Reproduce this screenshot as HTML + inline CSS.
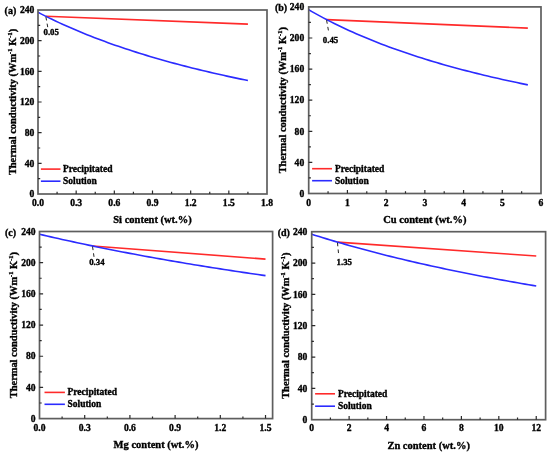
<!DOCTYPE html>
<html><head><meta charset="utf-8"><style>
html,body{margin:0;padding:0;background:#fff;}
body{width:550px;height:454px;overflow:hidden;}
svg{display:block;filter:blur(0.3px);}
text{font-family:"Liberation Serif", "Times New Roman", serif;font-weight:bold;fill:#000;stroke:#000;stroke-width:0.35px;}
.tk{font-size:9.6px;}
.lb{font-size:10.5px;}
.yl{font-size:10.4px;}
.lg{font-size:9.5px;}
.an{font-size:8.8px;}
.pn{font-size:10.0px;}
.sup{font-size:6.5px;}
</style></head><body>
<svg width="550" height="454" viewBox="0 0 550 454">
<rect width="550" height="454" fill="#fff"/>
<path d="M45.9,16.32 L247.92,24.11" fill="none" stroke="#ff2a2a" stroke-width="1.6"/>
<path d="M38,12.3 L41.5,14.1 L45,15.87 L48.5,17.6 L51.99,19.3 L55.49,20.97 L58.99,22.61 L62.49,24.21 L65.99,25.79 L69.49,27.34 L72.99,28.85 L76.48,30.35 L79.98,31.81 L83.48,33.25 L86.98,34.66 L90.48,36.05 L93.98,37.41 L97.48,38.75 L100.97,40.07 L104.47,41.37 L107.97,42.64 L111.47,43.9 L114.97,45.13 L118.47,46.34 L121.97,47.54 L125.47,48.71 L128.96,49.86 L132.46,51 L135.96,52.12 L139.46,53.22 L142.96,54.31 L146.46,55.38 L149.96,56.43 L153.45,57.46 L156.95,58.49 L160.45,59.49 L163.95,60.48 L167.45,61.46 L170.95,62.42 L174.45,63.37 L177.94,64.3 L181.44,65.22 L184.94,66.13 L188.44,67.03 L191.94,67.91 L195.44,68.78 L198.94,69.64 L202.43,70.49 L205.93,71.32 L209.43,72.15 L212.93,72.96 L216.43,73.77 L219.93,74.56 L223.43,75.34 L226.92,76.11 L230.42,76.87 L233.92,77.63 L237.42,78.37 L240.92,79.1 L244.42,79.82 L247.92,80.54" fill="none" stroke="#2b2bff" stroke-width="1.6"/>
<rect x="38" y="10" width="229" height="184" fill="none" stroke="#5e5e5e" stroke-width="1.7"/>
<text x="34.3" y="197.2" text-anchor="end" class="tk">0</text>
<text x="34.3" y="166.53" text-anchor="end" class="tk">40</text>
<text x="34.3" y="135.87" text-anchor="end" class="tk">80</text>
<text x="34.3" y="105.2" text-anchor="end" class="tk">120</text>
<text x="34.3" y="74.53" text-anchor="end" class="tk">160</text>
<text x="34.3" y="43.87" text-anchor="end" class="tk">200</text>
<text x="34.3" y="13.2" text-anchor="end" class="tk">240</text>
<text x="38" y="205.8" text-anchor="middle" class="tk">0.0</text>
<text x="76.17" y="205.8" text-anchor="middle" class="tk">0.3</text>
<text x="114.33" y="205.8" text-anchor="middle" class="tk">0.6</text>
<text x="152.5" y="205.8" text-anchor="middle" class="tk">0.9</text>
<text x="190.67" y="205.8" text-anchor="middle" class="tk">1.2</text>
<text x="228.83" y="205.8" text-anchor="middle" class="tk">1.5</text>
<text x="267" y="205.8" text-anchor="middle" class="tk">1.8</text>
<path d="M38,178.67 h2.2 M38,163.33 h3.6 M38,148 h2.2 M38,132.67 h3.6 M38,117.33 h2.2 M38,102 h3.6 M38,86.67 h2.2 M38,71.33 h3.6 M38,56 h2.2 M38,40.67 h3.6 M38,25.33 h2.2 M57.08,194 v-2.2 M76.17,194 v-3.6 M95.25,194 v-2.2 M114.33,194 v-3.6 M133.42,194 v-2.2 M152.5,194 v-3.6 M171.58,194 v-2.2 M190.67,194 v-3.6 M209.75,194 v-2.2 M228.83,194 v-3.6 M247.92,194 v-2.2" stroke="#2a2a2a" stroke-width="1.2" fill="none"/>
<path d="M45.9,16.92 L47.9,28.12" stroke="#222" stroke-width="1.0" stroke-dasharray="3.6,3.2" fill="none"/>
<text x="43.5" y="34.8" class="an">0.05</text>
<path d="M40.9,169.1 H60.5" stroke="#ff2a2a" stroke-width="1.6"/>
<path d="M40.9,181.2 H60.5" stroke="#2b2bff" stroke-width="1.6"/>
<text x="63" y="172.1" class="lg">Precipitated</text>
<text x="63" y="184.2" class="lg">Solution</text>
<text x="152.5" y="222.8" text-anchor="middle" class="lb">Si content (wt.%)</text>
<text transform="translate(15.9,102) rotate(-90)" text-anchor="middle" class="yl">Thermal conductivity (Wm<tspan class="sup" dy="-3.5">-1</tspan><tspan dy="3.5"> K</tspan><tspan class="sup" dy="-3.5">-1</tspan><tspan dy="3.5">)</tspan></text>
<text x="4.6" y="13.8" class="pn">(a)</text>
<path d="M326.59,19.59 L527.84,28.13" fill="none" stroke="#ff2a2a" stroke-width="1.6"/>
<path d="M308.7,9.78 L312.35,11.87 L316,13.91 L319.66,15.91 L323.31,17.87 L326.96,19.78 L330.61,21.65 L334.27,23.48 L337.92,25.27 L341.57,27.03 L345.22,28.75 L348.87,30.43 L352.53,32.08 L356.18,33.7 L359.83,35.28 L363.48,36.84 L367.14,38.36 L370.79,39.85 L374.44,41.32 L378.09,42.76 L381.75,44.17 L385.4,45.55 L389.05,46.91 L392.7,48.25 L396.35,49.56 L400.01,50.85 L403.66,52.11 L407.31,53.35 L410.96,54.57 L414.62,55.77 L418.27,56.95 L421.92,58.11 L425.57,59.25 L429.22,60.37 L432.88,61.47 L436.53,62.55 L440.18,63.62 L443.83,64.67 L447.49,65.7 L451.14,66.72 L454.79,67.72 L458.44,68.7 L462.1,69.67 L465.75,70.62 L469.4,71.56 L473.05,72.49 L476.7,73.4 L480.36,74.29 L484.01,75.18 L487.66,76.05 L491.31,76.91 L494.97,77.75 L498.62,78.59 L502.27,79.41 L505.92,80.22 L509.57,81.02 L513.23,81.81 L516.88,82.58 L520.53,83.35 L524.18,84.1 L527.84,84.85" fill="none" stroke="#2b2bff" stroke-width="1.6"/>
<rect x="308.7" y="6.9" width="232.3" height="186.6" fill="none" stroke="#5e5e5e" stroke-width="1.7"/>
<text x="304.2" y="196.7" text-anchor="end" class="tk">0</text>
<text x="304.2" y="165.6" text-anchor="end" class="tk">40</text>
<text x="304.2" y="134.5" text-anchor="end" class="tk">80</text>
<text x="304.2" y="103.4" text-anchor="end" class="tk">120</text>
<text x="304.2" y="72.3" text-anchor="end" class="tk">160</text>
<text x="304.2" y="41.2" text-anchor="end" class="tk">200</text>
<text x="304.2" y="10.1" text-anchor="end" class="tk">240</text>
<text x="308.7" y="205.6" text-anchor="middle" class="tk">0</text>
<text x="347.42" y="205.6" text-anchor="middle" class="tk">1</text>
<text x="386.13" y="205.6" text-anchor="middle" class="tk">2</text>
<text x="424.85" y="205.6" text-anchor="middle" class="tk">3</text>
<text x="463.57" y="205.6" text-anchor="middle" class="tk">4</text>
<text x="502.28" y="205.6" text-anchor="middle" class="tk">5</text>
<text x="541" y="205.6" text-anchor="middle" class="tk">6</text>
<path d="M308.7,177.95 h2.2 M308.7,162.4 h3.6 M308.7,146.85 h2.2 M308.7,131.3 h3.6 M308.7,115.75 h2.2 M308.7,100.2 h3.6 M308.7,84.65 h2.2 M308.7,69.1 h3.6 M308.7,53.55 h2.2 M308.7,38 h3.6 M308.7,22.45 h2.2 M328.06,193.5 v-2.2 M347.42,193.5 v-3.6 M366.77,193.5 v-2.2 M386.13,193.5 v-3.6 M405.49,193.5 v-2.2 M424.85,193.5 v-3.6 M444.21,193.5 v-2.2 M463.57,193.5 v-3.6 M482.93,193.5 v-2.2 M502.28,193.5 v-3.6 M521.64,193.5 v-2.2" stroke="#2a2a2a" stroke-width="1.2" fill="none"/>
<path d="M326.59,20.19 L328.59,31.39" stroke="#222" stroke-width="1.0" stroke-dasharray="3.6,3.2" fill="none"/>
<text x="322.8" y="42.7" class="an">0.45</text>
<path d="M312.1,168.7 H332" stroke="#ff2a2a" stroke-width="1.6"/>
<path d="M312.1,180.7 H332" stroke="#2b2bff" stroke-width="1.6"/>
<text x="334.9" y="171.7" class="lg">Precipitated</text>
<text x="334.9" y="183.7" class="lg">Solution</text>
<text x="424.85" y="222.6" text-anchor="middle" class="lb">Cu content (wt.%)</text>
<text transform="translate(285.5,100.2) rotate(-90)" text-anchor="middle" class="yl">Thermal conductivity (Wm<tspan class="sup" dy="-3.5">-1</tspan><tspan dy="3.5"> K</tspan><tspan class="sup" dy="-3.5">-1</tspan><tspan dy="3.5">)</tspan></text>
<text x="274.9" y="10.9" class="pn">(b)</text>
<path d="M92.54,245.96 L265.52,259.1" fill="none" stroke="#ff2a2a" stroke-width="1.6"/>
<path d="M39.5,234.23 L43.27,235.11 L47.03,235.99 L50.8,236.86 L54.57,237.72 L58.33,238.57 L62.1,239.42 L65.87,240.25 L69.64,241.08 L73.4,241.9 L77.17,242.72 L80.94,243.52 L84.7,244.32 L88.47,245.11 L92.24,245.9 L96,246.67 L99.77,247.44 L103.54,248.21 L107.31,248.96 L111.07,249.71 L114.84,250.46 L118.61,251.19 L122.37,251.92 L126.14,252.65 L129.91,253.37 L133.67,254.08 L137.44,254.78 L141.21,255.48 L144.98,256.18 L148.74,256.86 L152.51,257.55 L156.28,258.22 L160.04,258.89 L163.81,259.56 L167.58,260.22 L171.34,260.87 L175.11,261.52 L178.88,262.16 L182.64,262.8 L186.41,263.43 L190.18,264.06 L193.95,264.68 L197.71,265.3 L201.48,265.91 L205.25,266.52 L209.01,267.12 L212.78,267.72 L216.55,268.31 L220.31,268.9 L224.08,269.49 L227.85,270.07 L231.62,270.64 L235.38,271.21 L239.15,271.78 L242.92,272.34 L246.68,272.9 L250.45,273.45 L254.22,274 L257.98,274.55 L261.75,275.09 L265.52,275.63" fill="none" stroke="#2b2bff" stroke-width="1.6"/>
<rect x="39.5" y="231.5" width="233.1" height="187.1" fill="none" stroke="#5e5e5e" stroke-width="1.7"/>
<text x="35.6" y="421.8" text-anchor="end" class="tk">0</text>
<text x="35.6" y="390.62" text-anchor="end" class="tk">40</text>
<text x="35.6" y="359.43" text-anchor="end" class="tk">80</text>
<text x="35.6" y="328.25" text-anchor="end" class="tk">120</text>
<text x="35.6" y="297.07" text-anchor="end" class="tk">160</text>
<text x="35.6" y="265.88" text-anchor="end" class="tk">200</text>
<text x="35.6" y="234.7" text-anchor="end" class="tk">240</text>
<text x="39.5" y="430.7" text-anchor="middle" class="tk">0.0</text>
<text x="84.7" y="430.7" text-anchor="middle" class="tk">0.3</text>
<text x="129.91" y="430.7" text-anchor="middle" class="tk">0.6</text>
<text x="175.11" y="430.7" text-anchor="middle" class="tk">0.9</text>
<text x="220.31" y="430.7" text-anchor="middle" class="tk">1.2</text>
<text x="265.52" y="430.7" text-anchor="middle" class="tk">1.5</text>
<path d="M39.5,403.01 h2.2 M39.5,387.42 h3.6 M39.5,371.83 h2.2 M39.5,356.23 h3.6 M39.5,340.64 h2.2 M39.5,325.05 h3.6 M39.5,309.46 h2.2 M39.5,293.87 h3.6 M39.5,278.27 h2.2 M39.5,262.68 h3.6 M39.5,247.09 h2.2 M62.1,418.6 v-2.2 M84.7,418.6 v-3.6 M107.31,418.6 v-2.2 M129.91,418.6 v-3.6 M152.51,418.6 v-2.2 M175.11,418.6 v-3.6 M197.71,418.6 v-2.2 M220.31,418.6 v-3.6 M242.92,418.6 v-2.2 M265.52,418.6 v-3.6" stroke="#2a2a2a" stroke-width="1.2" fill="none"/>
<path d="M92.54,246.56 L94.14,257.76" stroke="#222" stroke-width="1.0" stroke-dasharray="3.6,3.2" fill="none"/>
<text x="89.2" y="264.8" class="an">0.34</text>
<path d="M44.5,392.4 H64.9" stroke="#ff2a2a" stroke-width="1.6"/>
<path d="M44.5,404.3 H64.9" stroke="#2b2bff" stroke-width="1.6"/>
<text x="67.5" y="395.4" class="lg">Precipitated</text>
<text x="67.5" y="407.3" class="lg">Solution</text>
<text x="156.05" y="447.6" text-anchor="middle" class="lb">Mg content (wt.%)</text>
<text transform="translate(16.9,325.05) rotate(-90)" text-anchor="middle" class="yl">Thermal conductivity (Wm<tspan class="sup" dy="-3.5">-1</tspan><tspan dy="3.5"> K</tspan><tspan class="sup" dy="-3.5">-1</tspan><tspan dy="3.5">)</tspan></text>
<text x="5" y="235.5" class="pn">(c)</text>
<path d="M337.47,242.1 L536.24,255.98" fill="none" stroke="#ff2a2a" stroke-width="1.6"/>
<path d="M311.7,234.21 L315.44,235.4 L319.18,236.57 L322.93,237.73 L326.67,238.87 L330.41,240.01 L334.15,241.12 L337.9,242.22 L341.64,243.31 L345.38,244.39 L349.12,245.45 L352.87,246.5 L356.61,247.54 L360.35,248.56 L364.09,249.58 L367.84,250.58 L371.58,251.57 L375.32,252.55 L379.06,253.51 L382.81,254.47 L386.55,255.41 L390.29,256.35 L394.03,257.27 L397.78,258.18 L401.52,259.08 L405.26,259.98 L409,260.86 L412.74,261.73 L416.49,262.6 L420.23,263.45 L423.97,264.3 L427.71,265.13 L431.46,265.96 L435.2,266.78 L438.94,267.58 L442.68,268.39 L446.43,269.18 L450.17,269.96 L453.91,270.74 L457.65,271.51 L461.4,272.27 L465.14,273.02 L468.88,273.76 L472.62,274.5 L476.37,275.23 L480.11,275.95 L483.85,276.67 L487.59,277.38 L491.34,278.08 L495.08,278.77 L498.82,279.46 L502.56,280.14 L506.3,280.82 L510.05,281.48 L513.79,282.14 L517.53,282.8 L521.27,283.45 L525.02,284.09 L528.76,284.73 L532.5,285.36 L536.24,285.98" fill="none" stroke="#2b2bff" stroke-width="1.6"/>
<rect x="311.7" y="231.7" width="233.9" height="188" fill="none" stroke="#5e5e5e" stroke-width="1.7"/>
<text x="307.4" y="422.9" text-anchor="end" class="tk">0</text>
<text x="307.4" y="391.57" text-anchor="end" class="tk">40</text>
<text x="307.4" y="360.23" text-anchor="end" class="tk">80</text>
<text x="307.4" y="328.9" text-anchor="end" class="tk">120</text>
<text x="307.4" y="297.57" text-anchor="end" class="tk">160</text>
<text x="307.4" y="266.23" text-anchor="end" class="tk">200</text>
<text x="307.4" y="234.9" text-anchor="end" class="tk">240</text>
<text x="311.7" y="431.3" text-anchor="middle" class="tk">0</text>
<text x="349.12" y="431.3" text-anchor="middle" class="tk">2</text>
<text x="386.55" y="431.3" text-anchor="middle" class="tk">4</text>
<text x="423.97" y="431.3" text-anchor="middle" class="tk">6</text>
<text x="461.4" y="431.3" text-anchor="middle" class="tk">8</text>
<text x="498.82" y="431.3" text-anchor="middle" class="tk">10</text>
<text x="536.24" y="431.3" text-anchor="middle" class="tk">12</text>
<path d="M311.7,404.03 h2.2 M311.7,388.37 h3.6 M311.7,372.7 h2.2 M311.7,357.03 h3.6 M311.7,341.37 h2.2 M311.7,325.7 h3.6 M311.7,310.03 h2.2 M311.7,294.37 h3.6 M311.7,278.7 h2.2 M311.7,263.03 h3.6 M311.7,247.37 h2.2 M330.41,419.7 v-2.2 M349.12,419.7 v-3.6 M367.84,419.7 v-2.2 M386.55,419.7 v-3.6 M405.26,419.7 v-2.2 M423.97,419.7 v-3.6 M442.68,419.7 v-2.2 M461.4,419.7 v-3.6 M480.11,419.7 v-2.2 M498.82,419.7 v-3.6 M517.53,419.7 v-2.2 M536.24,419.7 v-3.6" stroke="#2a2a2a" stroke-width="1.2" fill="none"/>
<path d="M337.47,242.7 L338.57,253.9" stroke="#222" stroke-width="1.0" stroke-dasharray="3.6,3.2" fill="none"/>
<text x="336.6" y="264.7" class="an">1.35</text>
<path d="M315.1,393.8 H335" stroke="#ff2a2a" stroke-width="1.6"/>
<path d="M315.1,406.2 H335" stroke="#2b2bff" stroke-width="1.6"/>
<text x="337.9" y="396.8" class="lg">Precipitated</text>
<text x="337.9" y="409.2" class="lg">Solution</text>
<text x="428.65" y="449.2" text-anchor="middle" class="lb">Zn content (wt.%)</text>
<text transform="translate(288.5,325.7) rotate(-90)" text-anchor="middle" class="yl">Thermal conductivity (Wm<tspan class="sup" dy="-3.5">-1</tspan><tspan dy="3.5"> K</tspan><tspan class="sup" dy="-3.5">-1</tspan><tspan dy="3.5">)</tspan></text>
<text x="277.7" y="235.5" class="pn">(d)</text>
</svg>
</body></html>
